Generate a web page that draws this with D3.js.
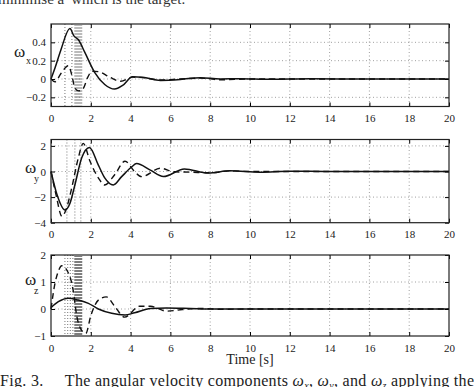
<!DOCTYPE html>
<html>
<head>
<meta charset="utf-8">
<script src="https://cdn.jsdelivr.net/npm/d3@7"></script>
<style>
  body { margin: 0; background: #fff; }
  svg { display: block; font-family: "Liberation Serif", "DejaVu Serif", serif; }
  svg text { font-family: "Liberation Serif", "DejaVu Serif", serif; }
</style>
</head>
<body>
<svg id="chart" width="474" height="387"></svg>
<script>
// time axis
var xTicks = [0, 2, 4, 6, 8, 10, 12, 14, 16, 18, 20];

// omega_x
var wxSolidT = [0, 0.2, 0.5, 0.95, 1.15, 1.37, 1.7, 2.2, 2.7, 3.2, 3.6, 4.1, 4.6, 5.5, 6.5, 7.5, 8.5, 9.5, 11, 13, 16, 20];
var wxSolidV = [0, 0.12, 0.32, 0.55, 0.47, 0.43, 0.29, 0.07, -0.06, -0.11, -0.07, 0.025, 0.02, -0.015, -0.005, 0.015, 0.0, 0.003, -0.004, 0.002, 0, 0];
var wxDashT = [0, 0.2, 0.5, 0.87, 1.05, 1.2, 1.4, 1.6, 1.85, 2.05, 2.4, 2.95, 3.5, 4.1, 4.6, 5.5, 6.5, 7.5, 8.5, 10, 20];
var wxDashV = [0, -0.03, 0.06, 0.145, 0.04, -0.1, -0.13, -0.11, 0.02, 0.085, 0.08, 0.02, -0.025, 0.02, 0.015, -0.01, 0.0, 0.01, -0.008, 0, 0];

// omega_y
var wySolidT = [0, 0.3, 0.7, 0.95, 1.2, 1.54, 1.93, 2.38, 2.7, 3.13, 3.55, 4.05, 4.3, 4.97, 5.65, 6.7, 7.9, 9, 10.5, 12, 14, 20];
var wySolidV = [0, -1.8, -3.0, -2.5, -1.05, 1.05, 1.88, 0.5, -0.5, -1.05, -0.4, 0.35, 0.62, 0.13, -0.4, 0.2, -0.12, 0.05, -0.05, 0.02, 0, 0];
var wyDashT = [0, 0.25, 0.55, 0.75, 1.04, 1.37, 1.62, 1.96, 2.38, 2.7, 3.2, 3.72, 4.2, 4.55, 5.5, 6.2, 7, 8, 9, 10, 20];
var wyDashV = [0, -1.8, -3.5, -3.0, -1.3, 1.05, 2.2, 0.8, -0.5, -1.05, -0.25, 0.8, 0.0, -0.4, 0.25, -0.02, -0.05, -0.1, 0.05, 0, 0];

// omega_z
var wzSolidT = [0, 0.37, 0.87, 1.37, 1.88, 2.38, 3.05, 3.72, 4.2, 5.0, 5.8, 7, 8, 20];
var wzSolidV = [0.05, 0.27, 0.4, 0.33, 0.21, 0.0, -0.16, -0.22, -0.14, 0.02, 0.04, 0.02, 0, 0];
var wzDashT = [0, 0.2, 0.37, 0.54, 0.95, 1.1, 1.3, 1.55, 1.75, 2.0, 2.38, 2.78, 3.2, 3.7, 4.45, 5.0, 5.8, 6.6, 7.5, 8.5, 10, 20];
var wzDashV = [0, 0.95, 1.4, 1.6, 1.2, 0.75, -0.28, -0.8, -0.9, -0.25, 0.33, 0.45, 0.1, -0.3, 0.1, 0.1, -0.08, -0.02, 0.02, -0.01, 0, 0];

// switching marks (dotted verticals) and hatched interval
var wxMarks = [0.7, 1.05];
var wyMarks = [0.8, 1.2, 1.5];
var wzMarks = [0.7, 0.84, 0.97, 1.1];
var hatchSpan = [1.17, 1.57];

var panels = [
  {sub: "x", domain: [-0.3, 0.6], ticks: [-0.2, 0, 0.2, 0.4], top: 24, bottom: 106.5,
   solid: [wxSolidT, wxSolidV], dash: [wxDashT, wxDashV], marks: wxMarks, hatch: true, hatchOpacity: 0.5,
   lab: {wx: 14, wy: 57, sx: 26, sy: 64}},
  {sub: "y", domain: [-4, 2.5], ticks: [-4, -2, 0, 2], top: 139.5, bottom: 222.7,
   solid: [wySolidT, wySolidV], dash: [wyDashT, wyDashV], marks: wyMarks, hatch: false,
   lab: {wx: 25, wy: 173, sx: 34, sy: 182}},
  {sub: "z", domain: [-1, 2], ticks: [-1, 0, 1, 2], top: 255, bottom: 336,
   solid: [wzSolidT, wzSolidV], dash: [wzDashT, wzDashV], marks: wzMarks, hatch: true, hatchOpacity: 0.95,
   lab: {wx: 25, wy: 285, sx: 34, sy: 294}}
];

var svg = d3.select("#chart");
var left = 51, right = 449;
var x = d3.scaleLinear().domain([0, 20]).range([left, right]);
var fmt = function(d) { return d3.format("")(d).replace("-", "\u2212"); };
var serif = "Liberation Serif";

// hatch pattern
var defs = svg.append("defs");
var pat = defs.append("pattern")
    .attr("id", "hatch")
    .attr("patternUnits", "userSpaceOnUse")
    .attr("width", 8).attr("height", 3);
pat.append("rect").attr("width", 8).attr("height", 3).attr("fill", "#fff");
pat.append("rect").attr("width", 8).attr("height", 2).attr("fill", "#777");

// cut-off text at top
svg.append("text")
    .attr("x", -2).attr("y", 4)
    .style("font-size", "15px").attr("fill", "#333")
    .text("minimise a\u2032 which is the target.");

panels.forEach(function(p) {
  var y = d3.scaleLinear().domain(p.domain).range([p.bottom, p.top]);
  var g = svg.append("g");

  // grid
  g.selectAll(".gx").data(xTicks.slice(1, -1)).enter().append("line")
      .attr("x1", function(d) { return x(d); }).attr("x2", function(d) { return x(d); })
      .attr("y1", p.top).attr("y2", p.bottom)
      .attr("stroke", "#888").attr("stroke-width", 0.8).attr("stroke-dasharray", "1,2.5");
  g.selectAll(".gy").data(p.ticks.filter(function(d) { return y(d) > p.top + 1 && y(d) < p.bottom - 1; }))
    .enter().append("line")
      .attr("x1", left).attr("x2", right)
      .attr("y1", function(d) { return y(d); }).attr("y2", function(d) { return y(d); })
      .attr("stroke", "#888").attr("stroke-width", 0.8).attr("stroke-dasharray", "1,2.5");

  // dotted switching marks
  g.selectAll(".mk").data(p.marks).enter().append("line")
      .attr("x1", function(d) { return x(d); }).attr("x2", function(d) { return x(d); })
      .attr("y1", p.top).attr("y2", p.bottom)
      .attr("stroke", "#666").attr("stroke-width", 0.9).attr("stroke-dasharray", "1,2");

  if (p.hatch) {
    g.append("rect")
        .attr("x", x(hatchSpan[0])).attr("width", x(hatchSpan[1]) - x(hatchSpan[0]))
        .attr("y", p.top + 1).attr("height", p.bottom - p.top - 2)
        .attr("fill", "url(#hatch)").attr("opacity", p.hatchOpacity);
  }

  // curves
  var line = d3.line()
      .x(function(d) { return x(d[0]); })
      .y(function(d) { return y(d[1]); })
      .curve(d3.curveMonotoneX);
  var solid = d3.zip(p.solid[0], p.solid[1]);
  var dash = d3.zip(p.dash[0], p.dash[1]);
  g.append("path").datum(dash).attr("d", line)
      .attr("fill", "none").attr("stroke", "#111").attr("stroke-width", 1.4)
      .attr("stroke-dasharray", "6,4");
  g.append("path").datum(solid).attr("d", line)
      .attr("fill", "none").attr("stroke", "#111").attr("stroke-width", 1.5);

  // axes: inner ticks on all sides (MATLAB style)
  g.append("g").attr("transform", "translate(0," + p.bottom + ")")
      .call(d3.axisBottom(x).tickValues(xTicks).tickSizeInner(-4).tickSizeOuter(0).tickPadding(8))
      .attr("font-family", serif).attr("font-size", 11)
      .call(function(a) {
        a.select(".domain").remove();
        a.selectAll("text").attr("fill", "#222");
      });
  g.append("g").attr("transform", "translate(0," + p.top + ")")
      .call(d3.axisTop(x).tickValues(xTicks).tickSizeInner(-4).tickSizeOuter(0).tickFormat(""))
      .call(function(a) { a.select(".domain").remove(); });
  g.append("g").attr("transform", "translate(" + left + ",0)")
      .call(d3.axisLeft(y).tickValues(p.ticks).tickSizeInner(-4).tickSizeOuter(0).tickPadding(5).tickFormat(fmt))
      .attr("font-family", serif).attr("font-size", 11)
      .call(function(a) {
        a.select(".domain").remove();
        a.selectAll("text").attr("fill", "#222");
      });
  g.append("g").attr("transform", "translate(" + right + ",0)")
      .call(d3.axisRight(y).tickValues(p.ticks).tickSizeInner(-4).tickSizeOuter(0).tickFormat(""))
      .call(function(a) { a.select(".domain").remove(); });

  // box
  g.append("rect")
      .attr("x", left).attr("y", p.top)
      .attr("width", right - left).attr("height", p.bottom - p.top)
      .attr("fill", "none").attr("stroke", "#222").attr("stroke-width", 1.2);

  // y label
  g.append("text").attr("x", p.lab.wx).attr("y", p.lab.wy)
      .style("font-size", "17px").attr("fill", "#222").text("\u03c9");
  g.append("text").attr("x", p.lab.sx).attr("y", p.lab.sy)
      .style("font-size", "10px").attr("fill", "#222").text(p.sub);
});

svg.append("text")
    .attr("x", 250).attr("y", 364).attr("text-anchor", "middle")
    .style("font-size", "14px").attr("fill", "#222")
    .text("Time [s]");

var cap = svg.append("text").attr("x", 0).attr("y", 386)
    .attr("xml:space", "preserve").style("white-space", "pre")
    .attr("textLength", 474).attr("lengthAdjust", "spacing")
    .style("font-size", "16px").attr("fill", "#222");
cap.append("tspan").text("Fig. 3.     The angular velocity components ");
cap.append("tspan").style("font-style", "italic").text("\u03c9");
cap.append("tspan").style("font-style", "italic").style("font-size", "10px").attr("dy", 3).text("x");
cap.append("tspan").attr("dy", -3).text(", ");
cap.append("tspan").style("font-style", "italic").text("\u03c9");
cap.append("tspan").style("font-style", "italic").style("font-size", "10px").attr("dy", 3).text("y");
cap.append("tspan").attr("dy", -3).text(", and ");
cap.append("tspan").style("font-style", "italic").text("\u03c9");
cap.append("tspan").style("font-style", "italic").style("font-size", "10px").attr("dy", 3).text("z");
cap.append("tspan").attr("dy", -3).text(" applying the");
</script>
</body>
</html>
